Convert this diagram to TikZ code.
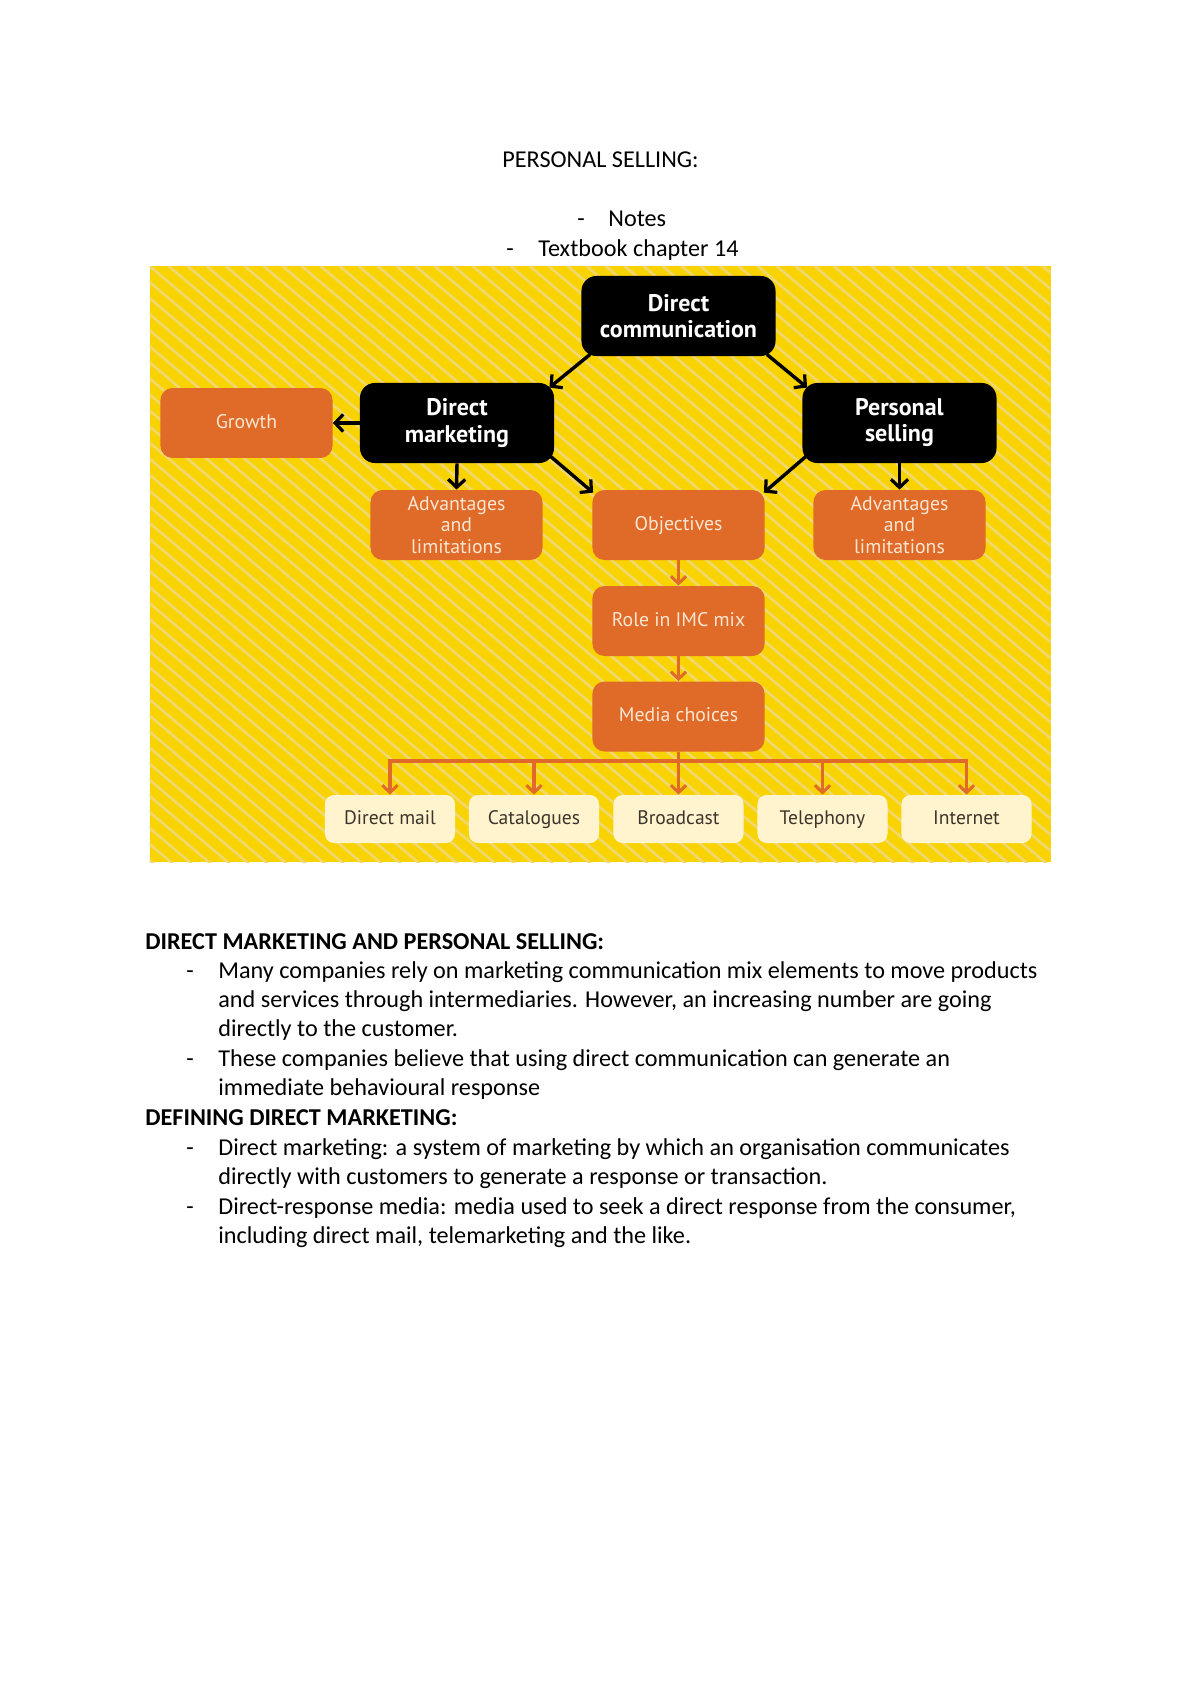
\documentclass[tikz,border=0pt]{standalone}
\usepackage{fontspec}
\setmainfont{Carlito}
\newfontfamily\diagfont{PT Sans}
\usetikzlibrary{arrows.meta,calc}
\definecolor{panelyellow}{RGB}{249,211,0}
\definecolor{stripeyellow}{RGB}{240,216,110}
\definecolor{boxorange}{RGB}{224,106,40}
\definecolor{orangetext}{RGB}{250,230,210}
\definecolor{creambox}{RGB}{255,244,205}
\definecolor{creamtext}{RGB}{60,52,45}
\tikzset{
  blackbox/.style={draw=none, fill=black, rounded corners=7.4pt, minimum width=96.2pt, minimum height=39.7pt, align=center, text=white, font=\diagfont\fontsize{11.9}{12.9}\selectfont\bfseries, inner sep=0pt},
  orangebox/.style={draw=none, fill=boxorange, rounded corners=6pt, minimum width=85.3pt, minimum height=34.7pt, align=center, text=orangetext, font=\diagfont\fontsize{9.8}{10.8}\selectfont, inner sep=0pt},
  orangeone/.style={orangebox, text height=7pt, text depth=2pt},
  creamboxst/.style={draw=none, fill=creambox, rounded corners=4.5pt, minimum width=64.5pt, minimum height=23.8pt, align=center, text=creamtext, font=\diagfont\fontsize{9.7}{10.8}\selectfont, inner sep=0pt, text height=7pt, text depth=2pt},
  blackarrow/.style={line width=1.7pt, draw=black, -{Straight Barb[length=4pt,width=8.5pt,line width=1.6pt]}},
  orangearrow/.style={line width=1.5pt, draw=boxorange, -{Straight Barb[length=3.6pt,width=7.5pt,line width=1.5pt]}},
  orangeline/.style={line width=1.5pt, draw=boxorange},
  bodytext/.style={anchor=base west, inner sep=0pt, font=\fontsize{12}{14}\selectfont},
}
\begin{document}
\begin{tikzpicture}[x=0.4958pt, y=-0.4958pt]
\useasboundingbox (0,0) rectangle (1200,1698);
\fill[white] (0,0) rectangle (1200,1698);
% header text
\node[bodytext] (title) at (502,167) {PERSONAL SELLING:};
\node[bodytext] (d1) at (577,226) {-};
\node[bodytext] (notes) at (608,226) {Notes};
\node[bodytext] (d2) at (506,256) {-};
\node[bodytext] (tb) at (538,256) {Textbook chapter 14};
% panel
\fill[panelyellow] (149.5,266) rectangle (1050.5,862);
\begin{scope}
\clip (149.5,266) rectangle (1050.5,862);
\foreach \k in {-760,-741,...,910} {
  \draw[stripeyellow, line width=1.3pt] (149.5+\k,266) -- (149.5+\k+710,866);
}
\end{scope}
% nodes
\node[blackbox] (dc) at (678.5,316) {Direct\\communication};
\node[blackbox] (dm) at (457,423) {Direct\\marketing};
\node[blackbox] (ps) at (899.5,423) {Personal\\selling};
\node[orangeone] (gr) at (246.5,423) {Growth};
\node[orangebox] (advl) at (456.5,525) {Advantages\\and\\limitations};
\node[orangeone] (obj) at (678.5,525) {Objectives};
\node[orangebox] (advr) at (899.5,525) {Advantages\\and\\limitations};
\node[orangeone] (role) at (678.5,621) {Role in IMC mix};
\node[orangeone] (mc) at (678.5,716.5) {Media choices};
\node[creamboxst] (dmail) at (390,819) {Direct mail};
\node[creamboxst] (cat) at (534,819) {Catalogues};
\node[creamboxst] (bc) at (678.5,819) {Broadcast};
\node[creamboxst] (tel) at (822.5,819) {Telephony};
\node[creamboxst] (inet) at (966.5,819) {Internet};
\coordinate (bar) at (678.5,761);
% black connectors
\draw[blackarrow] ($(dc.south west)+(9,-2)$) -- ($(dm.north east)+(-5,5)$);
\draw[blackarrow] ($(dc.south east)+(-9,-2)$) -- ($(ps.north west)+(5,5)$);
\draw[blackarrow] (dm.west) -- (gr.east);
\draw[blackarrow] (dm.south) -- (advl.north);
\draw[blackarrow] (ps.south) -- (advr.north);
\draw[blackarrow] ($(dm.south east)+(-5,-8)$) -- ($(obj.north west)+(1,3)$);
\draw[blackarrow] ($(ps.south west)+(5,-8)$) -- ($(obj.north east)+(-1,3)$);
% orange connectors
\draw[orangearrow] (obj.south) -- (role.north);
\draw[orangearrow] (role.south) -- (mc.north);
\draw[orangeline] ([xshift=-0.75pt]dmail.north |- bar) -- ([xshift=0.75pt]inet.north |- bar);
\draw[orangearrow] (mc.south) -- (bc.north);
\draw[orangearrow] (dmail.north |- bar) -- (dmail.north);
\draw[orangearrow] (cat.north |- bar) -- (cat.north);
\draw[orangearrow] (tel.north |- bar) -- (tel.north);
\draw[orangearrow] (inet.north |- bar) -- (inet.north);
% body text
\node[bodytext] (h1) at (145,949) {\bfseries DIRECT MARKETING AND PERSONAL SELLING:};
\node[bodytext] (b1d) at (186,978) {-};
\node[bodytext] (b1a) at (218,978) {Many companies rely on marketing communication mix elements to move products};
\node[bodytext] (b1b) at (218,1007) {and services through intermediaries. However, an increasing number are going};
\node[bodytext] (b1c) at (218,1036) {directly to the customer.};
\node[bodytext] (b2d) at (186,1066) {-};
\node[bodytext] (b2a) at (218,1066) {These companies believe that using direct communication can generate an};
\node[bodytext] (b2b) at (218,1095) {immediate behavioural response};
\node[bodytext] (h2) at (145,1125) {\bfseries DEFINING DIRECT MARKETING:};
\node[bodytext] (b3d) at (186,1155) {-};
\node[bodytext] (b3a) at (218,1155) {Direct marketing: a system of marketing by which an organisation communicates};
\node[bodytext] (b3b) at (218,1184) {directly with customers to generate a response or transaction.};
\node[bodytext] (b4d) at (186,1214) {-};
\node[bodytext] (b4a) at (218,1214) {Direct-response media: media used to seek a direct response from the consumer,};
\node[bodytext] (b4b) at (218,1243) {including direct mail, telemarketing and the like.};
\end{tikzpicture}
\end{document}
